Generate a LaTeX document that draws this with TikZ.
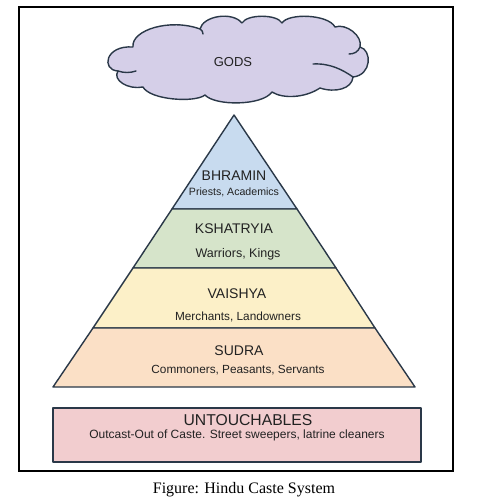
\documentclass[tikz,border=0pt]{standalone}
\usepackage{fontspec}
\setmainfont{Liberation Sans}
\newfontfamily\capfont{Liberation Serif}
\definecolor{edge}{HTML}{2A3848}
\definecolor{cBlue}{HTML}{C8DBEF}
\definecolor{cGreen}{HTML}{D6E4CA}
\definecolor{cYellow}{HTML}{FCF0C8}
\definecolor{cPeach}{HTML}{FBE0C6}
\definecolor{cPink}{HTML}{F2CDCF}
\definecolor{cLav}{HTML}{D5CFE8}
\definecolor{txt}{HTML}{222222}
\tikzset{
  tier/.style={draw=edge, line width=1.4pt, line join=round},
  cloudline/.style={draw=edge, line width=1.4pt, line join=round, line cap=round},
  title/.style={font=\fontsize{14}{16}\selectfont, text=txt, inner sep=0pt},
  sub/.style={font=\fontsize{11.8}{14}\selectfont, text=txt, inner sep=0pt},
}
\begin{document}
\begin{tikzpicture}[x=1pt,y=-1pt]
\useasboundingbox (0,0) rectangle (486,501);
\fill[white] (0,0) rectangle (486,501);
% frame
\draw[black, line width=1.2pt] (19,7) rectangle (453,471);
% cloud
\coordinate (cL) at (118,71);
\coordinate (cA) at (133,47);
\coordinate (cB) at (200,29);
\coordinate (cC) at (242,23);
\coordinate (cD) at (282,23);
\coordinate (cE) at (335,27);
\coordinate (cF) at (360,47);
\coordinate (cG) at (353,77);
\coordinate (cH) at (320,88);
\coordinate (cI) at (272,92);
\coordinate (cJ) at (205,95);
\coordinate (cK) at (143,87);
\path[cloudline, fill=cLav]
  (cL) .. controls (101,70) and (105,45) .. (cA)
       .. controls (131,30) and (170,18) .. (cB)
       .. controls (203,16) and (232,11) .. (cC)
       .. controls (247,14) and (277,14) .. (cD)
       .. controls (288,13) and (328,14) .. (cE)
       .. controls (346,23) and (363,36) .. (cF)
       .. controls (372,50) and (372,75) .. (cG)
       .. controls (352,89) and (335,93) .. (cH)
       .. controls (305,98) and (283,99) .. (cI)
       .. controls (262,106) and (215,106) .. (cJ)
       .. controls (195,103) and (150,100) .. (cK)
       .. controls (128,90) and (112,80) .. (cL) -- cycle;
\draw[cloudline] (cL) .. controls (124,73) and (130,73) .. (136,71);
\draw[cloudline] (cF) .. controls (358,52) and (354,54) .. (349,54);
\draw[cloudline] (313,64) .. controls (330,63) and (343,70) .. (cG);
\draw[cloudline] (cB) .. controls (202,30) and (203,32) .. (203,34);
\node[font=\fontsize{13}{15}\selectfont, text=txt] (godst) at (233,62) {GODS};
% pyramid tiers
\draw[tier, fill=cBlue] (234,115) -- (297,209) -- (172,209) -- cycle;
\draw[tier, fill=cGreen] (172,209) -- (297,209) -- (336,268) -- (133,268) -- cycle;
\draw[tier, fill=cYellow] (133,268) -- (336,268) -- (375,328) -- (93,328) -- cycle;
\draw[tier, fill=cPeach] (93,328) -- (375,328) -- (415,387) -- (53,387) -- cycle;
% untouchables
\draw[tier, fill=cPink] (53,408) rectangle (421,462);
% labels
\node[title] (bt) at (234,176) {BHRAMIN};
\node[sub, font=\fontsize{10.6}{12}\selectfont] (bs) at (234,192) {Priests, Academics};
\node[title] (kt) at (234,229) {KSHATRYIA};
\node[sub, font=\fontsize{12.5}{14}\selectfont] (ks) at (238,254) {Warriors, Kings};
\node[title] (vt) at (237,294) {VAISHYA};
\node[sub] (vs) at (238,317) {Merchants, Landowners};
\node[title] (st) at (239,351) {SUDRA};
\node[sub] (ss) at (238,370) {Commoners, Peasants, Servants};
\node[title, font=\fontsize{15.7}{18}\selectfont] (ut) at (248,420) {UNTOUCHABLES};
\node[sub, font=\fontsize{12}{14}\selectfont] (us) at (237,435) {Outcast-Out of Caste. Street sweepers, latrine cleaners};
% caption
\node[font=\capfont\fontsize{16}{18}\selectfont, text=black, inner sep=0pt] (cap) at (244,490) {Figure: Hindu Caste System};
\end{tikzpicture}
\end{document}
